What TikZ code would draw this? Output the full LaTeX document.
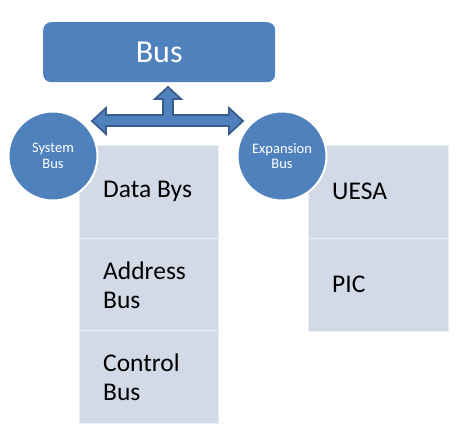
\documentclass[tikz,border=0pt]{standalone}
\usepackage{fontspec}
\setmainfont{Carlito}
\definecolor{busblue}{RGB}{79,129,189}
\definecolor{busedge}{RGB}{56,93,138}
\definecolor{cellfill}{RGB}{211,218,231}
\tikzset{
  cellbox/.style={fill=cellfill, draw=white!55!cellfill, line width=1pt, minimum width=139pt, minimum height=92.5pt, inner sep=0pt, anchor=north west},
  celltext/.style={align=left, inner sep=0pt, anchor=west, font=\fontsize{25.5}{29}\selectfont},
  circnode/.style={circle, fill=busblue, draw=white, line width=2pt, minimum size=89pt, inner sep=0pt, align=center, text=white, font=\fontsize{14.5}{15.5}\selectfont},
}
\begin{document}
\begin{tikzpicture}[x=1pt,y=-1pt]
\useasboundingbox (0,0) rectangle (467,447);
% top box
\node[fill=busblue, rounded corners=8pt, minimum width=232pt, minimum height=60pt, text=white, font=\fontsize{32}{36}\selectfont, anchor=north west, inner sep=0pt] (bus) at (43,22) {Bus};
% left column
\node[cellbox] (data) at (79,145) {};
\node[cellbox] (addr) at (79,238) {};
\node[cellbox, minimum height=93pt] (ctrl) at (79,330) {};
\node[celltext] (datat) at ([xshift=24pt]data.west) {Data Bys};
\node[celltext] (addrt) at ([xshift=24pt]addr.west) {Address\\Bus};
\node[celltext] (ctrlt) at ([xshift=24pt]ctrl.west) {Control\\Bus};
% right column
\node[cellbox, minimum width=140pt] (uesa) at (308,145) {};
\node[cellbox, minimum width=140pt] (pic) at (308,238) {};
\node[celltext] (uesat) at ([xshift=24pt]uesa.west) {UESA};
\node[celltext] (pict) at ([xshift=24pt]pic.west) {PIC};
% circles
\node[circnode] (sys) at (53,156) {System\\Bus};
\node[circnode] (exp) at (282,156) {Expansion\\Bus};
% arrow
\draw[fill=busblue, draw=busedge, line width=1.8pt, line join=miter]
  (92,121) -- (106,108) -- (106,115) -- (163,115) -- (163,99) -- (155,99) -- (168,87)
  -- (181,99) -- (173,99) -- (173,115) -- (229,115) -- (229,108) -- (243,121)
  -- (229,134) -- (229,126) -- (106,126) -- (106,134) -- cycle;
\end{tikzpicture}
\end{document}
